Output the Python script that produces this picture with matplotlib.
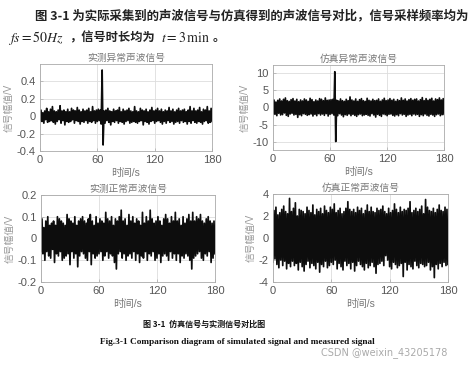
import matplotlib
matplotlib.use('Agg')
import matplotlib.pyplot as plt
import numpy as np

plt.rcParams['font.family'] = ['Liberation Sans', 'Noto Sans CJK SC']
plt.rcParams['mathtext.fontset'] = 'stix'

# 数据：每秒一个峰值，正负交替
t_sec = list(range(0, 181))

# 实测异常，单位 0.01 V
meas_abn = [-5, 7, -6, 4, -8, 6, -4, 9, -7, 5,
            -6, 8, -5, 11, -7, 6, -9, 5, -6, 7,
            -4, 12, -8, 6, -5, 7, -10, 5, -6, 8,
            -7, 5, -6, 9, -4, 7, -8, 6, -5, 10,
            -6, 7, -9, 5, -6, 8, -7, 6, -5, 7,
            -8, 9, -6, 5, -7, 11, -5, 6, -8, 7,
            -6, 8, -5, 7, -9, 53, -33, 6, -8, 7,
            -5, 9, -7, 6, -10, 5, -6, 8, -7, 6,
            -5, 7, -8, 10, -6, 5, -7, 8, -9, 6,
            -6, 7, -5, 9, -8, 6, -7, 5, -6, 11,
            -7, 6, -8, 5, -6, 9, -5, 7, -10, 6,
            -6, 8, -7, 5, -9, 7, -6, 10, -5, 6,
            -8, 7, -6, 9, -5, 6, -7, 8, -9, 5,
            -6, 7, -8, 6, -5, 10, -7, 6, -6, 8,
            -9, 5, -7, 7, -6, 9, -8, 6, -5, 7,
            -7, 8, -6, 5, -9, 7, -6, 11, -8, 6,
            -5, 9, -7, 6, -8, 7, -6, 10, -7, 5,
            -9, 8, -6, 7, -5, 11, -8, 6, -7, 9,
            -6]

# 仿真异常，单位 0.1 V
sim_abn = [-18, 22, -20, 16, -24, 21, -17, 25, -22, 19,
           -21, 24, -16, 28, -23, 20, -26, 18, -19, 23,
           -17, 26, -22, 19, -20, 24, -29, 17, -21, 22,
           -24, 19, -18, 25, -20, 22, -23, 18, -21, 27,
           -19, 23, -25, 17, -20, 22, -24, 19, -18, 26,
           -22, 24, -19, 20, -23, 28, -18, 21, -25, 22,
           -20, 23, -18, 24, -22, 105, -100, 21, -24, 19,
           -18, 25, -22, 20, -27, 18, -21, 24, -23, 20,
           -19, 31, -24, 22, -20, 19, -23, 25, -26, 18,
           -21, 23, -19, 26, -24, 20, -22, 18, -20, 27,
           -23, 21, -25, 19, -18, 24, -22, 20, -28, 21,
           -20, 25, -23, 18, -26, 22, -19, 27, -21, 20,
           -24, 22, -20, 26, -19, 21, -23, 24, -25, 18,
           -21, 23, -24, 20, -18, 28, -22, 21, -20, 25,
           -26, 19, -22, 23, -20, 26, -24, 21, -19, 24,
           -22, 25, -20, 19, -26, 23, -21, 29, -24, 20,
           -19, 26, -23, 21, -25, 24, -20, 27, -22, 19,
           -26, 25, -21, 23, -19, 28, -24, 22, -21, 26,
           -20]

# 实测正常，单位 0.01 V
meas_norm = [-6, 9, -7, 5, -10, 8, -6, 10, -8, 6,
             -9, 7, -5, 8, -11, 6, -7, 10, -8, 9,
             -6, 8, -10, 7, -9, 6, -8, 11, -7, 9,
             -12, 8, -6, 7, -9, 10, -7, 6, -13, 8,
             -8, 9, -6, 10, -7, 8, -9, 7, -10, 9,
             -6, 11, -12, 8, -7, 6, -9, 10, -8, 7,
             -7, 9, -6, 8, -10, 7, -8, 12, -6, 9,
             -9, 8, -7, 10, -8, 6, -11, 9, -14, 8,
             -7, 10, -6, 13, -9, 8, -7, 9, -10, 6,
             -8, 11, -7, 8, -9, 10, -6, 7, -10, 9,
             -7, 8, -11, 6, -8, 12, -9, 7, -6, 10,
             -10, 8, -7, 13, -8, 9, -6, 7, -10, 8,
             -9, 10, -7, 8, -11, 6, -8, 9, -7, 11,
             -8, 9, -10, 7, -6, 10, -9, 8, -7, 12,
             -10, 8, -7, 9, -11, 6, -8, 10, -9, 7,
             -7, 9, -8, 11, -10, 8, -14, 12, -9, 8,
             -8, 10, -7, 9, -6, 11, -9, 8, -10, 7,
             -7, 9, -8, 10, -6, 8, -11, 7, -9, 8,
             -7]

# 仿真正常，单位 0.1 V
sim_norm = [-22, 25, -19, 28, -24, 21, -27, 23, -20, 26,
            -25, 29, -21, 24, -28, 22, -23, 36, -26, 24,
            -21, 27, -25, 32, -23, 20, -29, 26, -22, 25,
            -26, 24, -30, 22, -24, 28, -21, 25, -27, 23,
            -23, 30, -25, 21, -28, 26, -22, 24, -31, 27,
            -24, 22, -26, 29, -21, 25, -27, 23, -25, 28,
            -22, 26, -24, 31, -20, 23, -28, 25, -23, 27,
            -26, 22, -29, 24, -21, 27, -25, 33, -23, 26,
            -28, 24, -22, 26, -30, 23, -25, 28, -21, 25,
            -24, 27, -26, 22, -29, 25, -23, 30, -27, 24,
            -25, 28, -22, 24, -26, 23, -32, 27, -24, 25,
            -23, 26, -21, 29, -25, 24, -16, 22, -20, 27,
            -26, 23, -28, 25, -22, 31, -24, 26, -27, 23,
            -25, 28, -23, 24, -35, 26, -22, 25, -29, 27,
            -24, 33, -26, 23, -28, 25, -21, 27, -25, 24,
            -27, 26, -23, 29, -24, 22, -26, 35, -25, 28,
            -22, 25, -29, 24, -26, 27, -36, 23, -24, 26,
            -28, 30, -23, 25, -26, 24, -22, 28, -25, 26,
            -24]

x_ticks = [0, 60, 120, 180]

panels = [
    (meas_abn, 0.01, '实测异常声波信号', [0.0844, 0.5863, 0.363, 0.2384], (-0.4, 0.6),
     [-0.4, -0.2, 0, 0.2, 0.4], ['-0.4', '-0.2', '0', '0.2', '0.4']),
    (sim_abn, 0.1, '仿真异常声波信号', [0.576, 0.589, 0.361, 0.233], (-12.5, 12.5),
     [-10, -5, 0, 5, 10], ['-10', '-5', '0', '5', '10']),
    (meas_norm, 0.01, '实测正常声波信号', [0.0865, 0.2274, 0.367, 0.2384], (-0.2, 0.2),
     [-0.2, -0.1, 0, 0.1, 0.2], ['-0.2', '-0.1', '0', '0.1', '0.2']),
    (sim_norm, 0.1, '仿真正常声波信号', [0.576, 0.2274, 0.369, 0.241], (-4, 4),
     [-4, -2, 0, 2, 4], ['-4', '-2', '0', '2', '4']),
]

fig = plt.figure(figsize=(4.74, 3.65), dpi=100)
fig.patch.set_facecolor('white')

for vals, unit, title, pos, ylim, yt, ytl in panels:
    ax = fig.add_axes(pos)
    ax.plot(t_sec, np.array(vals) * unit, color='#0d0d0d', lw=1.25)
    ax.set_xlim(0, 180)
    ax.set_ylim(*ylim)
    ax.set_xticks(x_ticks)
    ax.set_yticks(yt)
    ax.set_yticklabels(ytl)
    ax.grid(True, color='#dddddd', lw=0.6)
    ax.set_axisbelow(True)
    for s in ax.spines.values():
        s.set_color('#aaaaaa')
        s.set_linewidth(0.6)
    ax.tick_params(direction='in', length=2, width=0.5, color='#aaaaaa',
                   labelsize=8, labelcolor='#555555', pad=3)
    ax.set_title(title, fontsize=7, color='#777777', pad=2)
    ax.set_xlabel('时间/s', fontsize=7.5, color='#777777', labelpad=2)
    ax.set_ylabel('信号幅值/V', fontsize=7, color='#999999', labelpad=2)

# 顶部正文
fig.text(0.074, 0.956, '图 3-1 为实际采集到的声波信号与仿真得到的声波信号对比，信号采样频率均为',
         fontsize=8.95, weight='bold', color='#222222', va='center',
         family=['Noto Sans CJK SC'])
fig.text(0.017, 0.896, r'$fs=50Hz$', fontsize=10, color='#222222', va='center')
fig.text(0.145, 0.896, '，信号时长均为', fontsize=8.8, weight='bold', color='#222222',
         va='center', family=['Noto Sans CJK SC'])
fig.text(0.34, 0.896, r'$t=3\,\mathrm{min}$', fontsize=10, color='#222222', va='center')
fig.text(0.449, 0.896, '。', fontsize=8.8, weight='bold', color='#222222',
         va='center', family=['Noto Sans CJK SC'])

# 图注
fig.text(0.43, 0.112, '图 3-1  仿真信号与实测信号对比图', fontsize=5.8, color='#111111',
         ha='center', va='center', family=['Noto Sans CJK SC'], weight='bold')
fig.text(0.5, 0.063, 'Fig.3-1 Comparison diagram of simulated signal and measured signal',
         fontsize=6.7, color='#111111', ha='center', va='center',
         family=['Liberation Serif'], weight='bold')
fig.text(0.943, 0.033, 'CSDN @weixin_43205178', fontsize=7, color='#aaaaaa',
         ha='right', va='center', family=['DejaVu Sans'])

fig.savefig('out.png', dpi=100)
